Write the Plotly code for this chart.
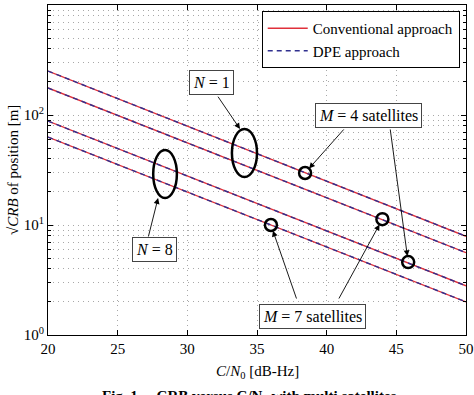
import plotly.graph_objects as go

# C/N0 grid [dB-Hz]
cn0 = [20, 25, 30, 35, 40, 45, 50]
# sqrt(CRB) of position [m]
crb_n1_m4 = [251, 141, 79, 44.6, 25.1, 14.1, 7.9]
crb_n1_m7 = [176, 99, 56, 31.3, 17.6, 9.9, 5.6]
crb_n8_m4 = [88, 49.5, 27.8, 15.6, 8.8, 4.95, 2.8]
crb_n8_m7 = [63, 35.4, 19.9, 11.2, 6.3, 3.5, 2.0]
series = [crb_n1_m4, crb_n1_m7, crb_n8_m4, crb_n8_m7]

# highlighted points (small circles)
m4_x = [38.45, 45.85]
m4_y = [29.7, 4.6]
m7_x = [36.0, 44.0]
m7_y = [10.0, 11.3]

xticks = [20, 25, 30, 35, 40, 45, 50]
yticks = [1, 10, 100, 1000]
yticklabels = ["10<sup>0</sup>", "10<sup>1</sup>", "10<sup>2</sup>", "10<sup>3</sup>"]

RED = "#e0303a"
BLUE = "#30308f"
FONT = "Liberation Serif"
GRID = "#a8a8a8"
GDASH = "1px,4px"

fig = go.Figure()
for i, s in enumerate(series):
    fig.add_trace(go.Scatter(x=cn0, y=s, mode="lines", name="Conventional approach",
                             line=dict(color=RED, width=1.4), showlegend=(i == 0),
                             legendgroup="conv"))
for i, s in enumerate(series):
    fig.add_trace(go.Scatter(x=cn0, y=s, mode="lines", name="DPE approach",
                             line=dict(color=BLUE, width=1.4, dash="5px,4px"),
                             showlegend=(i == 0), legendgroup="dpe"))

fig.add_trace(go.Scatter(x=m4_x + m7_x, y=m4_y + m7_y, mode="markers", showlegend=False,
                         marker=dict(symbol="circle-open", size=12, color="black",
                                     line=dict(width=2.5, color="black"))))

# ellipses (data coordinates)
fig.add_shape(type="circle", xref="x", yref="y", x0=33.2, x1=35.0, y0=27.3, y1=74.6,
              line=dict(color="black", width=2.5))
fig.add_shape(type="circle", xref="x", yref="y", x0=27.55, x1=29.25, y0=17.6, y1=48.1,
              line=dict(color="black", width=2.5))

def box(x, ylog, text):
    fig.add_annotation(x=x, y=ylog, xref="x", yref="y", text=text, showarrow=False,
                       xanchor="center", yanchor="middle",
                       bgcolor="white", bordercolor="#444", borderwidth=1, borderpad=3,
                       font=dict(family=FONT, size=16, color="black"))

def arrow(hx, hylog, tx, tylog, standoff=0):
    fig.add_annotation(x=hx, y=hylog, ax=tx, ay=tylog, xref="x", yref="y", axref="x", ayref="y",
                       text="", showarrow=True, arrowhead=2, arrowsize=1.3, arrowwidth=0.9,
                       arrowcolor="black", standoff=standoff)

arrow(33.78, 1.873, 32.13, 2.18)
arrow(27.9, 1.245, 27.18, 0.882)
arrow(38.45, 1.473, 41.32, 1.882, 6)
arrow(45.85, 0.663, 44.55, 1.882, 6)
arrow(36.0, 1.0, 37.87, 0.318, 6)
arrow(44.0, 1.053, 40.82, 0.318, 6)

box(31.7, 2.30, "<i>N</i> = 1")
box(27.61, 0.773, "<i>N</i> = 8")
box(42.97, 1.991, "<i>M</i> = 4 satellites")
box(38.95, 0.164, "<i>M</i> = 7 satellites")

# axis titles and caption
fig.add_annotation(x=-0.0837, y=0.5, xref="paper", yref="paper", textangle=-90, showarrow=False,
                   xanchor="center", yanchor="middle",
                   text="√<i>CRB</i> of position [m]", font=dict(family=FONT, size=15, color="black"))
fig.add_annotation(x=0.5, y=-0.112, xref="paper", yref="paper", showarrow=False,
                   xanchor="center", yanchor="middle",
                   text="<i>C</i>/<i>N</i><sub>0</sub> [dB-Hz]", font=dict(family=FONT, size=15, color="black"))
fig.add_annotation(x=0.125, y=-0.155, xref="paper", yref="paper", showarrow=False,
                   xanchor="left", yanchor="top",
                   text="<b>Fig. 1.    CRB versus C/N<sub>0</sub> with multi satellites</b>",
                   font=dict(family=FONT, size=15, color="black"))

fig.update_layout(
    width=474, height=395,
    margin=dict(l=48, r=8, t=5, b=60, autoexpand=False),
    plot_bgcolor="white", paper_bgcolor="white",
    font=dict(family=FONT, size=15, color="black"),
    legend=dict(x=0.985, y=0.982, xanchor="right", yanchor="top", bgcolor="white",
                bordercolor="black", borderwidth=1, font=dict(family=FONT, size=15),
                tracegroupgap=0, itemwidth=40),
    showlegend=True,
)
fig.update_xaxes(range=[20, 50], tickvals=xticks, showline=True, linecolor="black", linewidth=1,
                 mirror="ticks", ticks="inside", ticklen=5, tickcolor="black", automargin=False,
                 showgrid=True, gridcolor=GRID, griddash=GDASH, gridwidth=1, zeroline=False,
                 tickfont=dict(family=FONT, size=15))
fig.update_yaxes(type="log", range=[0, 3], tickvals=yticks, ticktext=yticklabels,
                 showline=True, linecolor="black", linewidth=1, mirror="ticks", automargin=False,
                 ticks="inside", ticklen=5, tickcolor="black",
                 showgrid=True, gridcolor=GRID, griddash=GDASH, gridwidth=1,
                 minor=dict(ticks="inside", ticklen=3, tickcolor="black", showgrid=True,
                            gridcolor=GRID, griddash=GDASH, gridwidth=1, dtick="D1"),
                 tickfont=dict(family=FONT, size=15))

fig.write_html("out.html", config={"displayModeBar": False},
               post_script="document.body.style.margin='0';")
